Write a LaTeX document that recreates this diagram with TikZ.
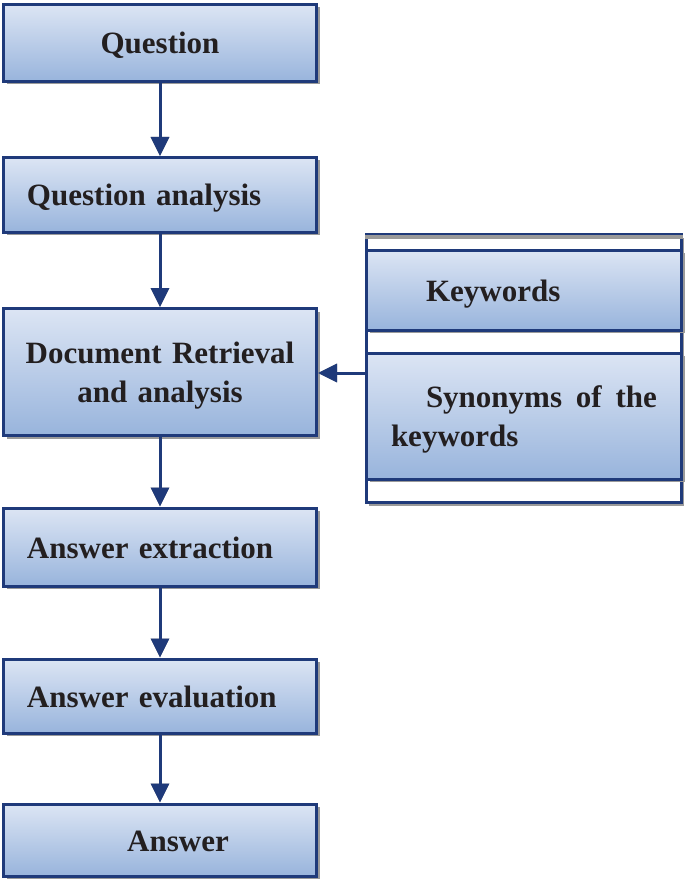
\documentclass[tikz,border=0pt]{standalone}
\usepackage{fontspec}
\setmainfont{Liberation Serif}
\usetikzlibrary{arrows.meta,shadows}
\definecolor{navy}{HTML}{1F3A7A}
\definecolor{boxtop}{HTML}{DCE5F4}
\definecolor{boxbot}{HTML}{98B4DC}
\definecolor{shade}{HTML}{9A9A9A}
\definecolor{ink}{HTML}{231F20}
\begin{document}
\begin{tikzpicture}[x=1pt,y=-1pt,
  flowbox/.style={rectangle, draw=navy, line width=3pt, top color=boxtop, bottom color=boxbot,
    general shadow={fill=shade, shadow xshift=3pt, shadow yshift=-3pt},
    minimum width=313pt, inner sep=0pt, text=ink, text height=22pt, text depth=0pt,
    font=\fontsize{31}{39}\selectfont\bfseries},
  twolines/.style={text height=22pt, text depth=39pt},
  sidebox/.style={flowbox, minimum width=315pt, text width=266pt, align=left},
  holder/.style={rectangle, draw=navy, line width=3pt, fill=white,
    general shadow={fill=shade, shadow xshift=2pt, shadow yshift=-3pt},
    minimum width=315pt, minimum height=268pt, inner sep=0pt},
  arr/.style={draw=navy, line width=3pt, -{Triangle[length=19pt,width=18pt]}},
  arrshade/.style={draw=shade, line width=3pt, -{Triangle[length=19pt,width=18pt]}, xshift=1.5pt, yshift=-2pt},
  shadeline/.style={draw=shade, line width=3pt}]
\useasboundingbox (0,0) rectangle (685,885);

% left column
\node[flowbox, minimum height=77pt, align=center] (q) at (160,43) {Question};
\node[flowbox, minimum height=75pt, text width=266pt, align=left] (qa) at (160,195) {Question analysis};
\node[flowbox, twolines, minimum height=127pt, text width=300pt, align=center] (dr) at (160,372) {Document Retrieval\\and analysis};
\node[flowbox, minimum height=78pt, text width=266pt, align=left] (ae) at (160,547) {Answer extraction};
\node[flowbox, minimum height=74pt, text width=266pt, align=left] (av) at (160,696) {Answer evaluation};
\node[flowbox, minimum height=72pt, align=center] (a) at (160,840) {\hspace*{36pt}Answer};

% right group
\node[holder] (cont) at (524,368.5) {};
\draw[shadeline] ([yshift=-4pt]cont.north west) -- ([yshift=-4pt]cont.north east);
\node[sidebox, minimum height=80pt] (kw) at (524,290) {\hspace*{35pt}Keywords};
\node[sidebox, twolines, minimum height=126pt] (syn) at (524,416) {\hspace*{35pt}Synonyms\hfill of\hfill the\\keywords};

% connectors
\foreach \s/\t in {q/qa,qa/dr,dr/ae,ae/av,av/a}{
  \draw[arrshade] (\s.south) -- (\t.north);
  \draw[arr] (\s.south) -- (\t.north);
}
\draw[arrshade] ([yshift=-1pt]cont.west |- dr.east) -- ([yshift=-1pt]dr.east);
\draw[arr] ([yshift=-1pt]cont.west |- dr.east) -- ([yshift=-1pt]dr.east);
\end{tikzpicture}
\end{document}
